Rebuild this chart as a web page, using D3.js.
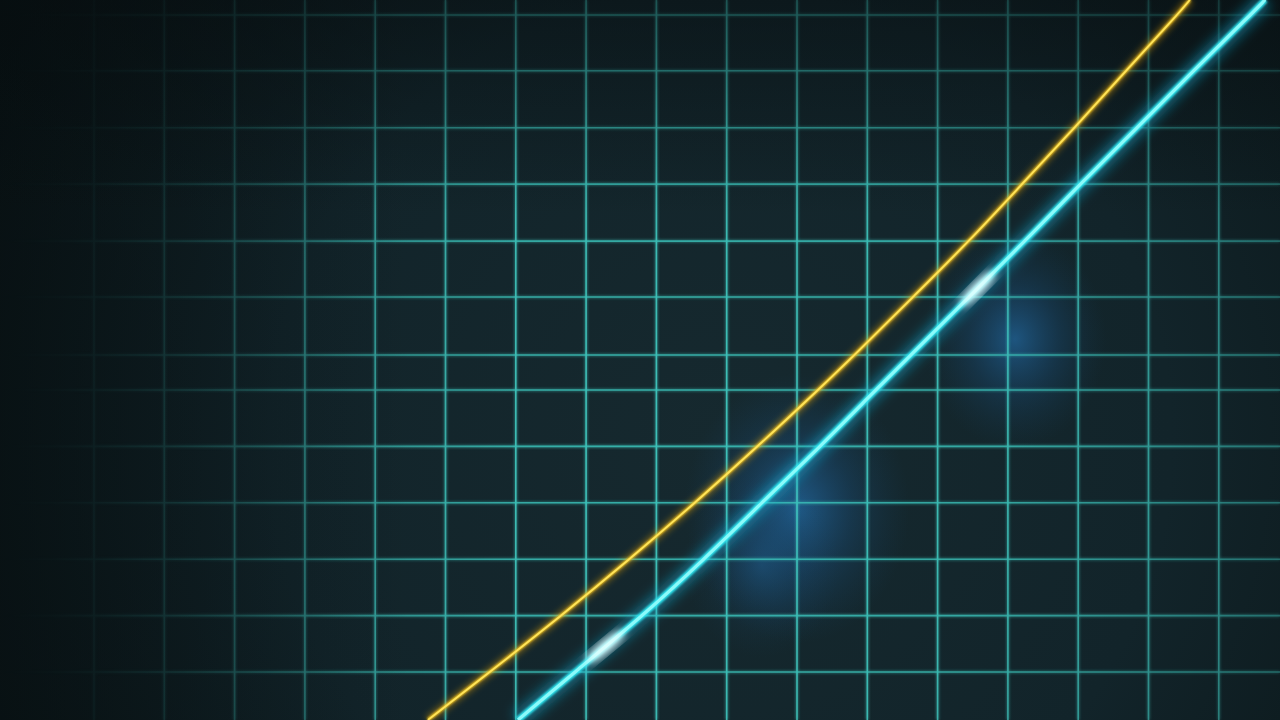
<!DOCTYPE html>
<html><head><meta charset="utf-8">
<script src="https://cdn.jsdelivr.net/npm/d3@7"></script>
<style>html,body{margin:0;padding:0;background:#0d191c;overflow:hidden}svg{display:block}</style>
</head><body>
<svg id="c" width="1280" height="720"></svg>
<script>
// ---- data (grid units) ----
const gridX = d3.range(0, 17);
const gridY = [0, 1, 2, 3, 4, 5, 5.62, 6.65, 7.64, 8.65, 9.65, 10.66, 11.65];
const levels = [-0.85, 0, 0.99, 2.0, 3.0, 4.01, 5.0, 5.62, 6.65, 7.64, 8.65, 9.65, 10.66, 11.65, 11.92];
const yellowX = [4.75, 5.63, 6.64, 7.62, 8.55, 9.45, 10.30, 10.82, 11.65, 12.45, 13.20, 13.95, 14.68, 15.41, 15.59];
const cyanX = [6.03, 6.84, 7.80, 8.68, 9.50, 10.34, 11.12, 11.62, 12.45, 13.24, 14.03, 14.84, 15.64, 16.45, 16.66];
const highlightLevels = [0.45, 6.8];
const glowX = [10.0, 13.1, 9.5];
const glowY = [2.9, 5.9, 1.9];
const glowR = [1.6, 1.3, 1.1];
const glowO = [1, 0.9, 0.5];

const W = 1280, H = 720;
const x = d3.scaleLinear().domain([0, 16]).range([94, 94 + 16 * 70.3]);
const y = d3.scaleLinear().domain([0, 11.65]).range([672, 672 - 11.65 * 56.4]);

const svg = d3.select('#c');
const defs = svg.append('defs');

// background gradients
const bg = defs.append('radialGradient').attr('id', 'bg').attr('gradientUnits', 'userSpaceOnUse')
  .attr('cx', 720).attr('cy', 440).attr('r', 820);
bg.append('stop').attr('offset', 0).attr('stop-color', '#16292f');
bg.append('stop').attr('offset', 0.55).attr('stop-color', '#12242a');
bg.append('stop').attr('offset', 1).attr('stop-color', '#0a1517');

const leftDark = defs.append('linearGradient').attr('id', 'leftDark').attr('x1', 0).attr('x2', 1).attr('y1', 0).attr('y2', 0);
leftDark.append('stop').attr('offset', 0).attr('stop-color', '#060d0f').attr('stop-opacity', 0.6);
leftDark.append('stop').attr('offset', 0.32).attr('stop-color', '#060d0f').attr('stop-opacity', 0);

const topDark = defs.append('linearGradient').attr('id', 'topDark').attr('x1', 0).attr('x2', 0).attr('y1', 0).attr('y2', 1);
topDark.append('stop').attr('offset', 0).attr('stop-color', '#060c0e').attr('stop-opacity', 0.5);
topDark.append('stop').attr('offset', 0.3).attr('stop-color', '#060c0e').attr('stop-opacity', 0);

svg.append('rect').attr('width', W).attr('height', H).attr('fill', 'url(#bg)');

// blue glows
const blueG = defs.append('radialGradient').attr('id', 'blueG');
blueG.append('stop').attr('offset', 0).attr('stop-color', '#2268a0').attr('stop-opacity', 0.8);
blueG.append('stop').attr('offset', 0.5).attr('stop-color', '#1b5282').attr('stop-opacity', 0.35);
blueG.append('stop').attr('offset', 1).attr('stop-color', '#16405f').attr('stop-opacity', 0);
svg.append('g').selectAll('ellipse').data(glowX).join('ellipse')
  .attr('cx', (d, i) => x(d)).attr('cy', (d, i) => y(glowY[i]))
  .attr('rx', (d, i) => x(glowR[i]) - x(0)).attr('ry', (d, i) => (x(glowR[i]) - x(0)) * 1.2)
  .attr('opacity', (d, i) => glowO[i])
  .attr('fill', 'url(#blueG)');

// grid masks
const maskL = defs.append('linearGradient').attr('id', 'maskL').attr('gradientUnits', 'userSpaceOnUse')
  .attr('x1', 0).attr('x2', 520).attr('y1', 0).attr('y2', 0);
maskL.append('stop').attr('offset', 0).attr('stop-color', '#000');
maskL.append('stop').attr('offset', 0.1).attr('stop-color', '#111');
maskL.append('stop').attr('offset', 0.25).attr('stop-color', '#444');
maskL.append('stop').attr('offset', 0.45).attr('stop-color', '#888');
maskL.append('stop').attr('offset', 0.7).attr('stop-color', '#ccc');
maskL.append('stop').attr('offset', 1).attr('stop-color', '#fff');
defs.append('mask').attr('id', 'gmL').attr('maskUnits', 'userSpaceOnUse').attr('x', 0).attr('y', 0).attr('width', W).attr('height', H)
  .append('rect').attr('width', W).attr('height', H).attr('fill', 'url(#maskL)');

const maskR = defs.append('radialGradient').attr('id', 'maskR').attr('gradientUnits', 'userSpaceOnUse')
  .attr('cx', 660).attr('cy', 460).attr('r', 760);
maskR.append('stop').attr('offset', 0).attr('stop-color', '#fff');
maskR.append('stop').attr('offset', 0.45).attr('stop-color', '#eee');
maskR.append('stop').attr('offset', 1).attr('stop-color', '#666');
defs.append('mask').attr('id', 'gmR').attr('maskUnits', 'userSpaceOnUse').attr('x', 0).attr('y', 0).attr('width', W).attr('height', H)
  .append('rect').attr('width', W).attr('height', H).attr('fill', 'url(#maskR)');

const gridSoft = defs.append('filter').attr('id', 'gridSoft').attr('x', '-5%').attr('y', '-5%').attr('width', '110%').attr('height', '110%');
gridSoft.append('feGaussianBlur').attr('in', 'SourceGraphic').attr('stdDeviation', 1.6).attr('result', 'b');
const gm = gridSoft.append('feMerge');
gm.append('feMergeNode').attr('in', 'b');
gm.append('feMergeNode').attr('in', 'SourceGraphic');

const gOuter = svg.append('g').attr('mask', 'url(#gmL)');
const grid = gOuter.append('g').attr('mask', 'url(#gmR)').attr('filter', 'url(#gridSoft)');
grid.selectAll('line.v').data(gridX).join('line').attr('class', 'v')
  .attr('x1', d => x(d)).attr('x2', d => x(d)).attr('y1', 0).attr('y2', H)
  .attr('stroke', '#42cec5').attr('stroke-width', 1.6).attr('stroke-opacity', 0.88);
grid.selectAll('line.h').data(gridY).join('line').attr('class', 'h')
  .attr('y1', d => y(d)).attr('y2', d => y(d)).attr('x1', 0).attr('x2', W)
  .attr('stroke', '#3cc2ba').attr('stroke-width', 1.6).attr('stroke-opacity', 0.82);

// darkening overlays
svg.append('rect').attr('width', W).attr('height', H).attr('fill', 'url(#leftDark)');
svg.append('rect').attr('width', W).attr('height', H).attr('fill', 'url(#topDark)');

// line filters
function blurFilter(id, sd) {
  const f = defs.append('filter').attr('id', id).attr('x', '-20%').attr('y', '-20%').attr('width', '140%').attr('height', '140%');
  f.append('feGaussianBlur').attr('stdDeviation', sd);
}
blurFilter('blur3', 3);
blurFilter('blur6', 6);
blurFilter('blur1', 0.8);
blurFilter('blurH', 4);

const line = d3.line().x(d => x(d[0])).y(d => y(d[1])).curve(d3.curveBasis);
const yellowPts = yellowX.map((v, i) => [v, levels[i]]);
const cyanPts = cyanX.map((v, i) => [v, levels[i]]);

// yellow curve
const yg = svg.append('g');
yg.append('path').attr('d', line(yellowPts)).attr('fill', 'none').attr('stroke', '#e0a012')
  .attr('stroke-width', 8).attr('stroke-opacity', 0.45).attr('filter', 'url(#blur3)');
yg.append('path').attr('d', line(yellowPts)).attr('fill', 'none').attr('stroke', '#f2c51c')
  .attr('stroke-width', 3.4).attr('filter', 'url(#blur1)');
yg.append('path').attr('d', line(yellowPts)).attr('fill', 'none').attr('stroke', '#ffe45a')
  .attr('stroke-width', 1.8);

// cyan curve
const cg = svg.append('g');
cg.append('path').attr('d', line(cyanPts)).attr('fill', 'none').attr('stroke', '#1fb8e0')
  .attr('stroke-width', 18).attr('stroke-opacity', 0.42).attr('filter', 'url(#blur6)');
cg.append('path').attr('d', line(cyanPts)).attr('fill', 'none').attr('stroke', '#2ee6f0')
  .attr('stroke-width', 6.5).attr('filter', 'url(#blur1)');
cg.append('path').attr('d', line(cyanPts)).attr('fill', 'none').attr('stroke', '#8cfafa')
  .attr('stroke-width', 3.2);

// highlights on the cyan curve
const cyanAt = d3.scaleLinear().domain(levels).range(cyanX);
cg.selectAll('ellipse').data(highlightLevels).join('ellipse')
  .attr('transform', d => {
    const px = x(cyanAt(d)), py = y(d);
    const px2 = x(cyanAt(d + 0.3)), py2 = y(d + 0.3);
    const ang = Math.atan2(py2 - py, px2 - px) * 180 / Math.PI;
    return `translate(${px},${py}) rotate(${ang})`;
  })
  .attr('rx', 24).attr('ry', 6).attr('fill', '#f0ffff').attr('fill-opacity', 0.95).attr('filter', 'url(#blurH)');
</script>
</body></html>
